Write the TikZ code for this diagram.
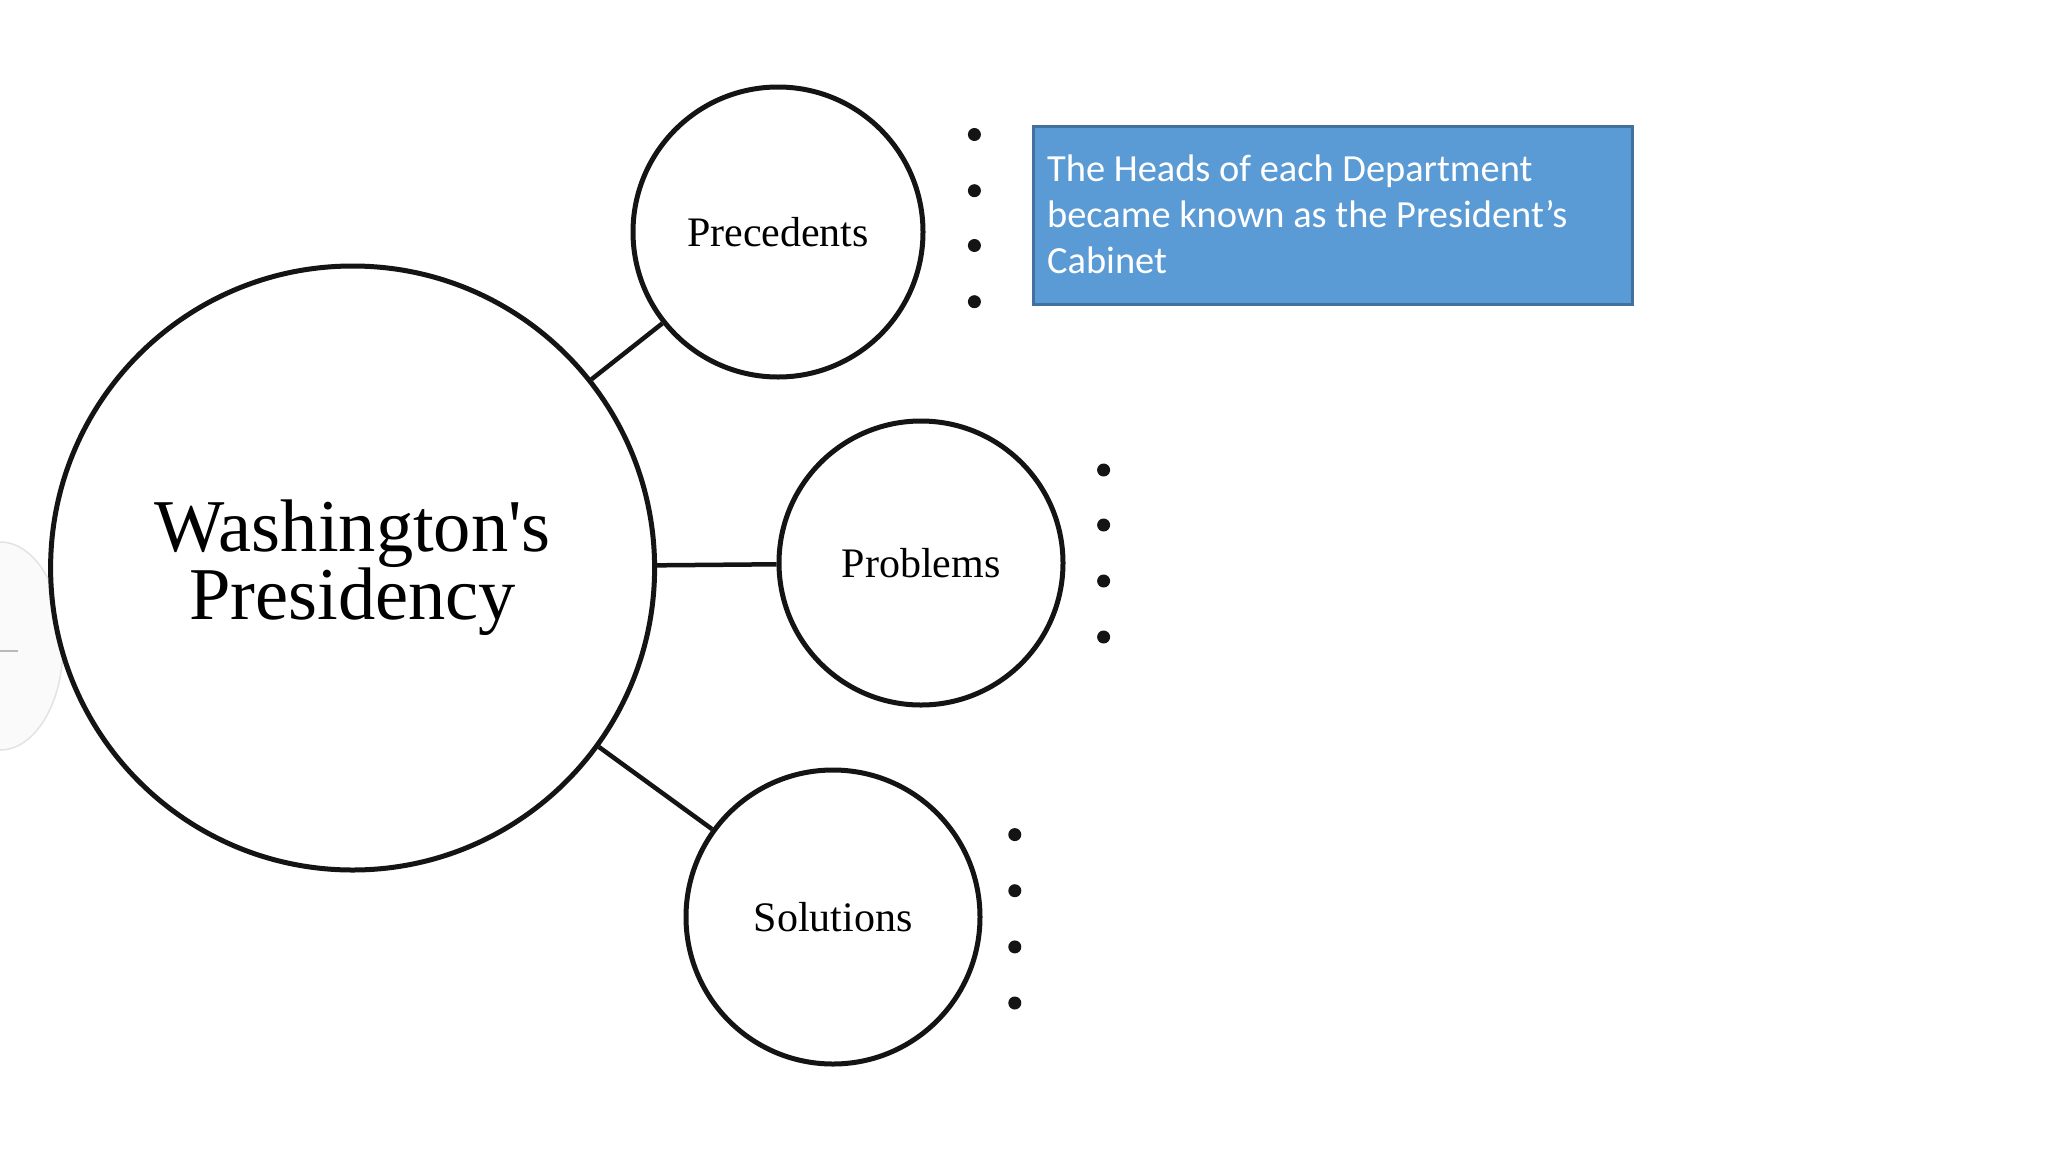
\documentclass[tikz,border=0pt]{standalone}
\usepackage{fontspec}
\setmainfont{Liberation Serif}
\newfontfamily\calib{Carlito}
\usetikzlibrary{shapes.geometric}
\definecolor{boxblue}{RGB}{91,155,213}
\definecolor{boxedge}{RGB}{65,113,156}
\definecolor{ink}{RGB}{20,20,20}
\tikzset{
  bubble/.style={circle, draw=ink, line width=5pt, fill=white, inner sep=0pt, font=\fontsize{42}{48}\selectfont},
  link/.style={draw=ink, line width=4.5pt},
  dot/.style={circle, fill=ink, inner sep=0pt, minimum size=13pt},
  boxline/.style={anchor=base west, inner sep=0pt, text=white, font=\calib\fontsize{38.4}{46}\selectfont}
}
\begin{document}
\begin{tikzpicture}[x=1pt,y=-1pt]
\useasboundingbox (0,0) rectangle (2048,1152);
\fill[white] (0,0) rectangle (2048,1152);
\begin{scope}
\clip (0,0) rectangle (2048,1152);
\draw[fill=gray!4, draw=gray!22, line width=1.5pt] (0,646) ellipse [x radius=63, y radius=104];
\draw[gray!55, line width=2pt] (0,651) -- (18,651);
\end{scope}
% circles
\node[bubble, minimum size=604pt, align=center, font=\fontsize{74.5}{68}\selectfont] (main) at (352.6,568) {Washington\textquotesingle s\\Presidency};
\node[bubble, minimum size=290pt] (prec) at (778,232) {Precedents};
\node[bubble, minimum size=284pt] (prob) at (921,563) {Problems};
\node[bubble, minimum size=294pt] (sol) at (833,917) {Solutions};
\draw[link] (main) -- (prec);
\draw[link] (main) -- (prob);
\draw[link] (main) -- (sol);
% bullets
\foreach \y [count=\i] in {134.5,190.7,245.5,301.7} \node[dot] (pd\i) at (974.4,\y) {};
\foreach \y [count=\i] in {470,525,581,637} \node[dot] (bd\i) at (1103.6,\y) {};
\foreach \y [count=\i] in {834.6,890.7,946.9,1003} \node[dot] (sd\i) at (1014.8,\y) {};
% blue box
\node[draw=boxedge, fill=boxblue, line width=2.5pt, minimum width=599pt, minimum height=178pt, anchor=north west, inner sep=0pt] (cab) at (1032,125) {};
\node[boxline] (l1) at (1047,181) {The Heads of each Department};
\node[boxline] (l2) at (1047,227) {became known as the President’s};
\node[boxline] (l3) at (1047,273) {Cabinet};
\end{tikzpicture}
\end{document}
